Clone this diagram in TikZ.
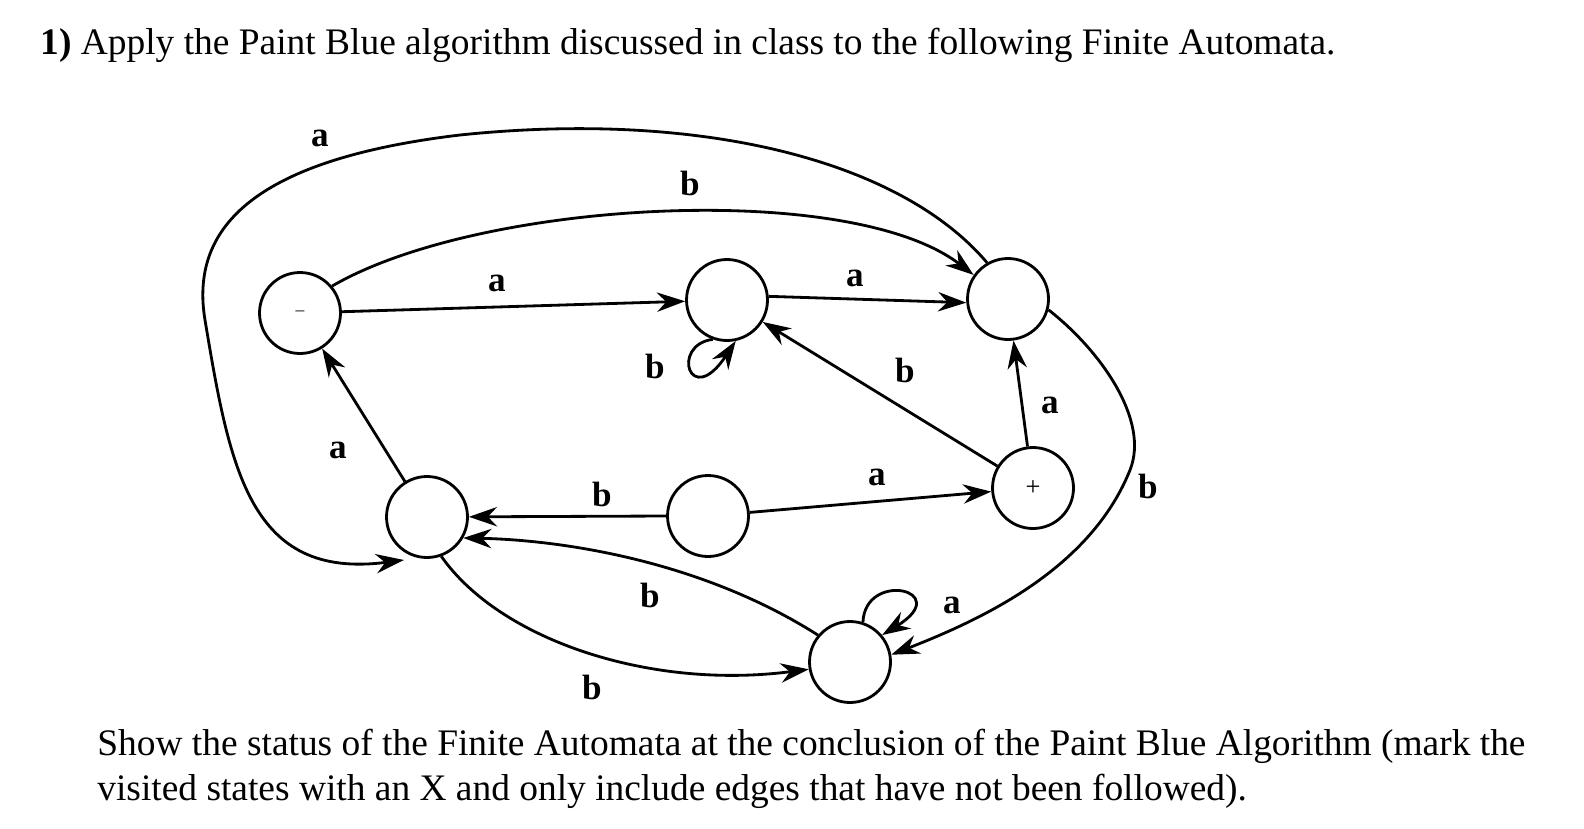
\documentclass[tikz,border=0pt]{standalone}
\usepackage{fontspec}
\setmainfont{Liberation Serif}
\usetikzlibrary{arrows.meta,positioning}
\tikzset{
    % arrow style
    pil/.style={-{Stealth[length=16pt,width=11pt]}, line width=1.6pt},
    state/.style={circle, draw=black, line width=1.6pt, minimum size=1.62cm, inner sep=0pt},
    lbl/.style={font=\fontsize{20}{23}\selectfont\bfseries}
}
\begin{document}
\begin{tikzpicture}[x=0.02cm, y=-0.02cm]
\useasboundingbox (0,0) rectangle (1584,828);

% title and question
\node[anchor=base west, font=\fontsize{21.3}{25}\selectfont, inner sep=0pt] (title) at (40,55)
    {\textbf{1)} Apply the Paint Blue algorithm discussed in class to the following Finite Automata.};
\node[anchor=north west, align=left, font=\fontsize{21.3}{25.5}\selectfont, inner sep=0pt] (task) at (97,729)
    {Show the status of the Finite Automata at the conclusion of the Paint Blue Algorithm (mark the\\
     visited states with an X and only include edges that have not been followed).};

% states
\node[state] (start) at (300,313) {\fontsize{10}{12}\selectfont --};
\node[state] (q1) at (727,300) {};
\node[state] (q2) at (1008,299) {};
\node[state] (fin) at (1033,488) {\fontsize{15}{17}\selectfont +};
\node[state] (q4) at (427,517) {};
\node[state] (q5) at (708,516) {};
\node[state] (q6) at (850,662) {};

% transitions
\draw[pil] (start) -- (q1);
\draw[pil] (start.40) .. controls (480,200) and (850,180) .. (q2.145);
\draw[pil] (q2.120) .. controls (900,160) and (700,110) .. (460,135)
    .. controls (250,160) and (190,230) .. (205,320)
    .. controls (230,470) and (250,580) .. (404,560);
\draw[pil] (q1.5) -- (q2.185);
\draw[pil] (q1.250) .. controls (670,345) and (690,410) .. (q1.282);
\draw[pil] (fin) -- (q1);
\draw[pil] (fin) -- (q2);
\draw[pil] (q4) -- (start);
\draw[pil] (q5.180) -- (q4);
\draw[pil] (q5) -- (fin);
\draw[pil] (q2.345) .. controls (1100,350) and (1150,420) .. (1130,470)
    .. controls (1090,570) and (980,620) .. (q6.10);
\draw[pil] (q6.140) .. controls (700,560) and (560,540) .. (q4.330);
\draw[pil] (q4.290) .. controls (500,640) and (650,690) .. (q6.190);
\draw[pil] (q6.72) .. controls (865,570) and (955,590) .. (q6.40);

% labels
\node[lbl] (la1) at (497,283) {a};
\node[lbl] (lb1) at (690,183) {b};
\node[lbl] (la2) at (320,138) {a};
\node[lbl] (la3) at (855,278) {a};
\node[lbl] (lb2) at (655,366) {b};
\node[lbl] (lb3) at (905,370) {b};
\node[lbl] (la4) at (1050,405) {a};
\node[lbl] (la5) at (338,450) {a};
\node[lbl] (lb4) at (602,494) {b};
\node[lbl] (la6) at (877,477) {a};
\node[lbl] (lb5) at (1148,486) {b};
\node[lbl] (lb6) at (650,595) {b};
\node[lbl] (lb7) at (592,687) {b};
\node[lbl] (la7) at (952,605) {a};
\end{tikzpicture}
\end{document}
